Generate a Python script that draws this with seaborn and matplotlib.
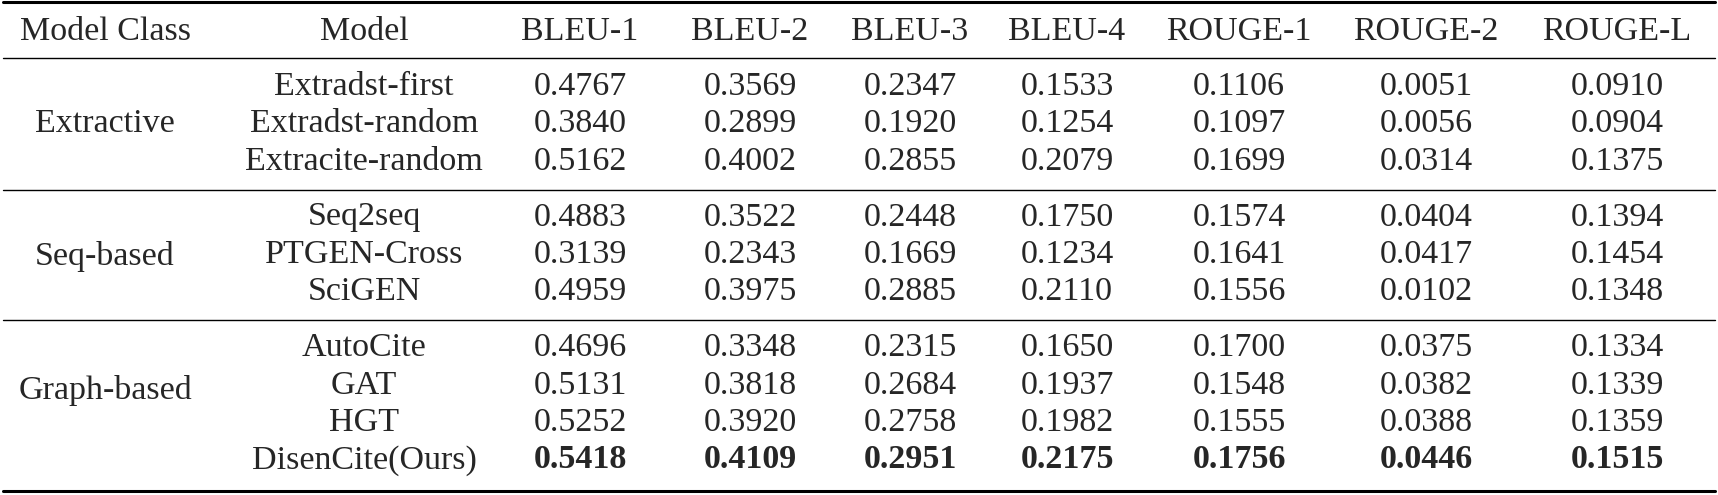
import matplotlib
matplotlib.use("Agg")
import matplotlib.pyplot as plt
import seaborn as sns
import pandas as pd

# table content
model_classes = ["Extractive", "Seq-based", "Graph-based"]
models = [
    ["Extradst-first", "Extradst-random", "Extracite-random"],
    ["Seq2seq", "PTGEN-Cross", "SciGEN"],
    ["AutoCite", "GAT", "HGT", "DisenCite(Ours)"],
]
metrics = ["BLEU-1", "BLEU-2", "BLEU-3", "BLEU-4", "ROUGE-1", "ROUGE-2", "ROUGE-L"]

bleu1 = [0.4767, 0.3840, 0.5162, 0.4883, 0.3139, 0.4959, 0.4696, 0.5131, 0.5252, 0.5418]
bleu2 = [0.3569, 0.2899, 0.4002, 0.3522, 0.2343, 0.3975, 0.3348, 0.3818, 0.3920, 0.4109]
bleu3 = [0.2347, 0.1920, 0.2855, 0.2448, 0.1669, 0.2885, 0.2315, 0.2684, 0.2758, 0.2951]
bleu4 = [0.1533, 0.1254, 0.2079, 0.1750, 0.1234, 0.2110, 0.1650, 0.1937, 0.1982, 0.2175]
rouge1 = [0.1106, 0.1097, 0.1699, 0.1574, 0.1641, 0.1556, 0.1700, 0.1548, 0.1555, 0.1756]
rouge2 = [0.0051, 0.0056, 0.0314, 0.0404, 0.0417, 0.0102, 0.0375, 0.0382, 0.0388, 0.0446]
rougel = [0.0910, 0.0904, 0.1375, 0.1394, 0.1454, 0.1348, 0.1334, 0.1339, 0.1359, 0.1515]

df = pd.DataFrame(
    dict(zip(metrics, [bleu1, bleu2, bleu3, bleu4, rouge1, rouge2, rougel])),
    index=[m for grp in models for m in grp],
)

sns.set_theme(style="white")
plt.rcParams["font.family"] = ["Liberation Serif", "DejaVu Serif"]
FS = 24.5

W, H = 1718, 495
fig = plt.figure(figsize=(W / 100, H / 100), dpi=100)
ax = fig.add_axes([0, 0, 1, 1])
ax.set_xlim(0, W)
ax.set_ylim(H, 0)
ax.axis("off")

# layout (pixels)
col_x = [105, 364, 580, 750, 910, 1067, 1239, 1426, 1617]
header_y = 40
first_y = 95
pitch = 37.5
gap = 18
label_offset = [1.0, 1.05, 1.15]  # multirow label position, in rows

# header
ax.text(col_x[0], header_y, "Model Class", ha="center", va="baseline", fontsize=FS)
ax.text(col_x[1], header_y, "Model", ha="center", va="baseline", fontsize=FS)
for x, m in zip(col_x[2:], metrics):
    ax.text(x, header_y, m, ha="center", va="baseline", fontsize=FS)

# rules
ax.axhline(1.5, xmin=3 / W, xmax=1715 / W, color="black", lw=2.2)
ax.axhline(57.5, xmin=3 / W, xmax=1715 / W, color="black", lw=1.0)
ax.axhline(490.5, xmin=3 / W, xmax=1715 / W, color="black", lw=2.2)

best = df.max()
y = first_y
for g, (cls, grp) in enumerate(zip(model_classes, models)):
    ys = []
    for name in grp:
        ys.append(y)
        ax.text(col_x[1], y, name, ha="center", va="baseline", fontsize=FS)
        for x, m in zip(col_x[2:], metrics):
            v = df.loc[name, m]
            ax.text(x, y, f"{v:.4f}", ha="center", va="baseline", fontsize=FS,
                    fontweight="bold" if v == best[m] else "normal")
        y += pitch
    ax.text(col_x[0], ys[0] + label_offset[g] * pitch, cls, ha="center",
            va="baseline", fontsize=FS)
    if g < len(models) - 1:
        line_y = ys[-1] + 19.5
        ax.axhline(line_y, xmin=3 / W, xmax=1715 / W, color="black", lw=1.0)
        y = ys[-1] + pitch + gap

fig.savefig("out.png", dpi=100, facecolor="white")
